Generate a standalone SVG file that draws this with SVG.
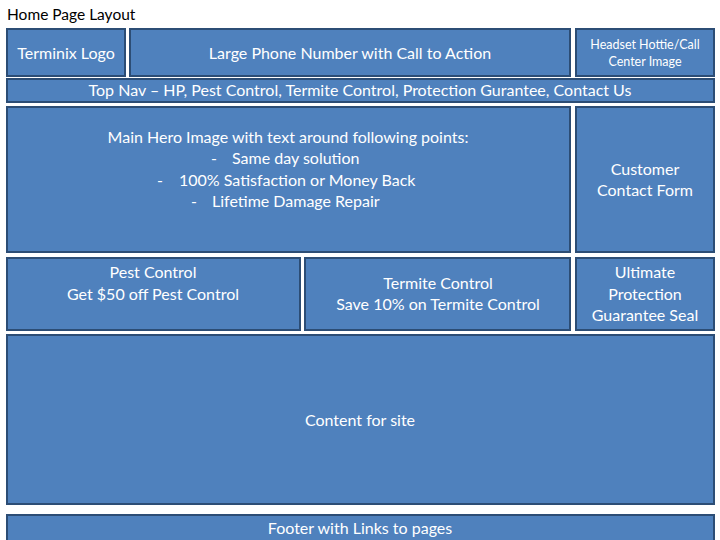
<svg xmlns="http://www.w3.org/2000/svg" width="720" height="540" viewBox="0 0 720 540">
<style>
rect{fill:#4F81BD;stroke:#2C4D75;stroke-width:2}
text{font-family:Lato,"Open Sans",sans-serif;fill:#fff;font-size:16px;text-anchor:middle}
.s{font-size:12.5px}
.l{text-anchor:start}
</style>
<rect x="0" y="0" width="720" height="540" style="fill:#fff;stroke:none"/>
<text x="7" y="20" style="fill:#000;text-anchor:start;font-size:15.5px">Home Page Layout</text>
<g id="logo"><rect x="7" y="29" width="118" height="47"/><text x="66" y="59">Terminix Logo</text></g>
<g id="phone"><rect x="130" y="29" width="440" height="47"/><text x="350" y="59">Large Phone Number with Call to Action</text></g>
<g id="headset"><rect x="576" y="29" width="138" height="47"/><text class="s" x="645" y="49">Headset Hottie/Call</text><text class="s" x="645" y="66">Center Image</text></g>
<g id="nav"><rect x="7" y="79" width="707" height="23"/><text x="360" y="96">Top Nav – HP, Pest Control, Termite Control, Protection Gurantee, Contact Us</text></g>
<g id="hero"><rect x="7" y="107" width="563" height="145"/>
<text x="288" y="143">Main Hero Image with text around following points:</text>
<text class="l" x="211" y="164">-</text><text class="l" x="232" y="164">Same day solution</text>
<text class="l" x="157" y="186">-</text><text class="l" x="179" y="186">100% Satisfaction or Money Back</text>
<text class="l" x="191" y="207">-</text><text class="l" x="212" y="207">Lifetime Damage Repair</text></g>
<g id="contact"><rect x="576" y="107" width="138" height="145"/><text x="645" y="175">Customer</text><text x="645" y="196">Contact Form</text></g>
<g id="pest"><rect x="7" y="258" width="293" height="72"/><text x="153" y="278">Pest Control</text><text x="153" y="300">Get $50 off Pest Control</text></g>
<g id="termite"><rect x="305" y="258" width="265" height="72"/><text x="438" y="289">Termite Control</text><text x="438" y="310">Save 10% on Termite Control</text></g>
<g id="seal"><rect x="576" y="258" width="138" height="72"/><text x="645" y="278">Ultimate</text><text x="645" y="300">Protection</text><text x="645" y="321">Guarantee Seal</text></g>
<g id="content"><rect x="7" y="335" width="707" height="169"/><text x="360" y="426">Content for site</text></g>
<g id="footer"><rect x="7" y="515" width="707" height="30"/><text x="360" y="534">Footer with Links to pages</text></g>
<g id="connectors"></g>
</svg>
